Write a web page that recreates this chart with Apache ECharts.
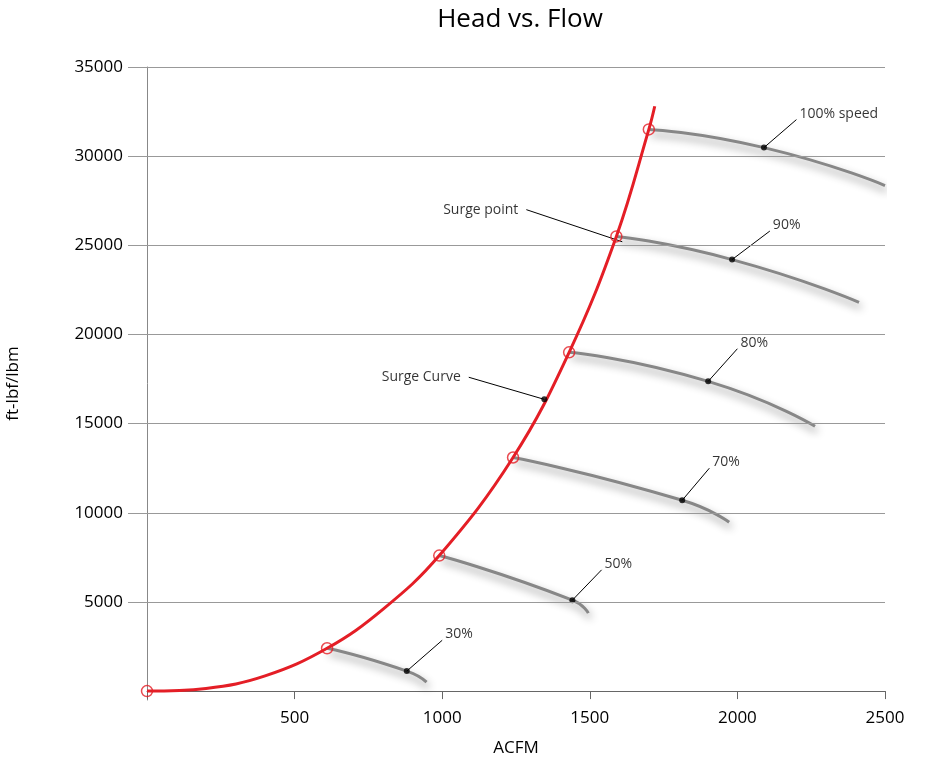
<!DOCTYPE html>
<html>
<head>
<meta charset="utf-8">
<script src="https://cdn.jsdelivr.net/npm/echarts@6/dist/echarts.min.js"></script>
<style>html,body{margin:0;padding:0;background:#fff}#chart{width:926px;height:764px}</style>
</head>
<body>
<div id="chart"></div>
<script>
// surge curve points (ACFM, head)
var surgeCurve = [[0, 0], [200, 150], [400, 850], [610, 2400], [800, 4600], [990, 7600], [1240, 13100], [1430, 19000], [1590, 25500], [1700, 31500], [1720, 32800]];
var surgePoints = [[0, 0], [610, 2400], [990, 7600], [1240, 13100], [1430, 19000], [1590, 25500], [1700, 31500]];

// speed lines: start, marker, end
var speedNames = ['100% speed', '90%', '80%', '70%', '50%', '30%'];
var speedLines = [
    [[1700, 31500], [2090, 30480], [2500, 28350]],
    [[1590, 25500], [1982, 24200], [2412, 21800]],
    [[1430, 19000], [1901, 17370], [2263, 14850]],
    [[1240, 13100], [1813, 10700], [1972, 9470]],
    [[990, 7600], [1441, 5100], [1495, 4370]],
    [[610, 2400], [880, 1120], [947, 500]]
];
// leader line end (label anchor) for each speed label
var labelAnchors = [[2200, 32050], [2110, 25800], [2000, 19200], [1905, 12500], [1540, 6800], [1000, 2850]];

// annotations on the surge curve
var surgeNotes = [
    { name: 'Surge point', from: [1610, 25200], to: [1285, 27000] },
    { name: 'Surge Curve', from: [1346, 16360], to: [1090, 17600] }
];
var yTicks = [5000, 10000, 15000, 20000, 25000, 30000, 35000];

var myChart = echarts.init(document.getElementById('chart'));
var font = 'Open Sans';
var series = [];

speedLines.forEach(function (line, i) {
    series.push({
        type: 'line', data: line, smooth: 0.6, symbol: 'none', z: 2,
        lineStyle: { color: '#878787', width: 3, shadowBlur: 8, shadowColor: 'rgba(0,0,0,0.45)', shadowOffsetX: 2, shadowOffsetY: 5 }
    });
    series.push({
        type: 'line', data: [line[1], labelAnchors[i]], symbol: 'none', z: 3,
        lineStyle: { color: '#000', width: 1 }
    });
    series.push({
        type: 'scatter', data: [line[1]], symbolSize: 6, z: 4,
        itemStyle: { color: '#000' }
    });
    series.push({
        type: 'scatter', data: [labelAnchors[i]], symbolSize: 0, z: 4,
        label: { show: true, position: 'right', distance: 3, offset: [0, -6], formatter: speedNames[i], color: '#000', fontSize: 14, fontFamily: font }
    });
});

series.push({
    type: 'line', data: surgeCurve, smooth: 0.4, symbol: 'none', z: 5,
    lineStyle: { color: '#e41e26', width: 3 }
});
series.push({
    type: 'scatter', data: surgePoints, symbol: 'circle', symbolSize: 11, z: 6,
    itemStyle: { color: 'rgba(255,255,255,0)', borderColor: '#e41e26', borderWidth: 1.5 }
});

surgeNotes.forEach(function (n) {
    series.push({
        type: 'line', data: [n.from, n.to], symbol: 'none', z: 3,
        lineStyle: { color: '#000', width: 1 }
    });
    series.push({
        type: 'scatter', data: [n.to], symbolSize: 0, z: 4,
        label: { show: true, position: 'left', distance: 8, formatter: n.name, color: '#000', fontSize: 14, fontFamily: font }
    });
});
series.push({
    type: 'scatter', data: [[1346, 16360]], symbolSize: 6, z: 7,
    itemStyle: { color: '#000' }
});
// horizontal grid lines at labelled values
series.push({
    type: 'line', data: [], symbol: 'none',
    markLine: {
        silent: true, symbol: 'none', label: { show: false },
        lineStyle: { color: '#999', type: 'solid', width: 1 },
        data: yTicks.map(function (v) { return { yAxis: v }; })
    }
});

var option = {
    animation: false,
    title: {
        text: 'Head vs. Flow', left: 515, top: 2, textAlign: 'center',
        textStyle: { fontSize: 26, fontWeight: 'normal', color: '#000', fontFamily: font }
    },
    grid: { left: 147, right: 41, top: 67, bottom: 64, containLabel: false, outerBoundsMode: 'none' },
    xAxis: {
        type: 'value', min: 0, max: 2500, interval: 500,
        name: 'ACFM', nameLocation: 'middle', nameGap: 40,
        nameTextStyle: { fontSize: 17, color: '#000', fontFamily: font },
        axisLine: { lineStyle: { color: '#666' } },
        axisTick: { length: 8, lineStyle: { color: '#666' } },
        axisLabel: { fontSize: 17, color: '#000', fontFamily: font, margin: 10,
            formatter: function (v) { return v === 0 ? '' : String(v); } },
        splitLine: { show: false }
    },
    yAxis: {
        type: 'value', min: -500, max: 35000,
        name: 'ft-lbf/lbm', nameLocation: 'middle', nameGap: 125,
        nameTextStyle: { fontSize: 17, color: '#000', fontFamily: font },
        axisLine: { show: true, lineStyle: { color: '#888' } },
        axisTick: { show: true, length: 19, customValues: yTicks, lineStyle: { color: '#999' } },
        axisLabel: { fontSize: 17, color: '#000', fontFamily: font, margin: 24,
            customValues: yTicks, formatter: function (v) { return String(v); } },
        splitLine: { show: false }
    },
    series: series
};
myChart.setOption(option);
</script>
</body>
</html>
